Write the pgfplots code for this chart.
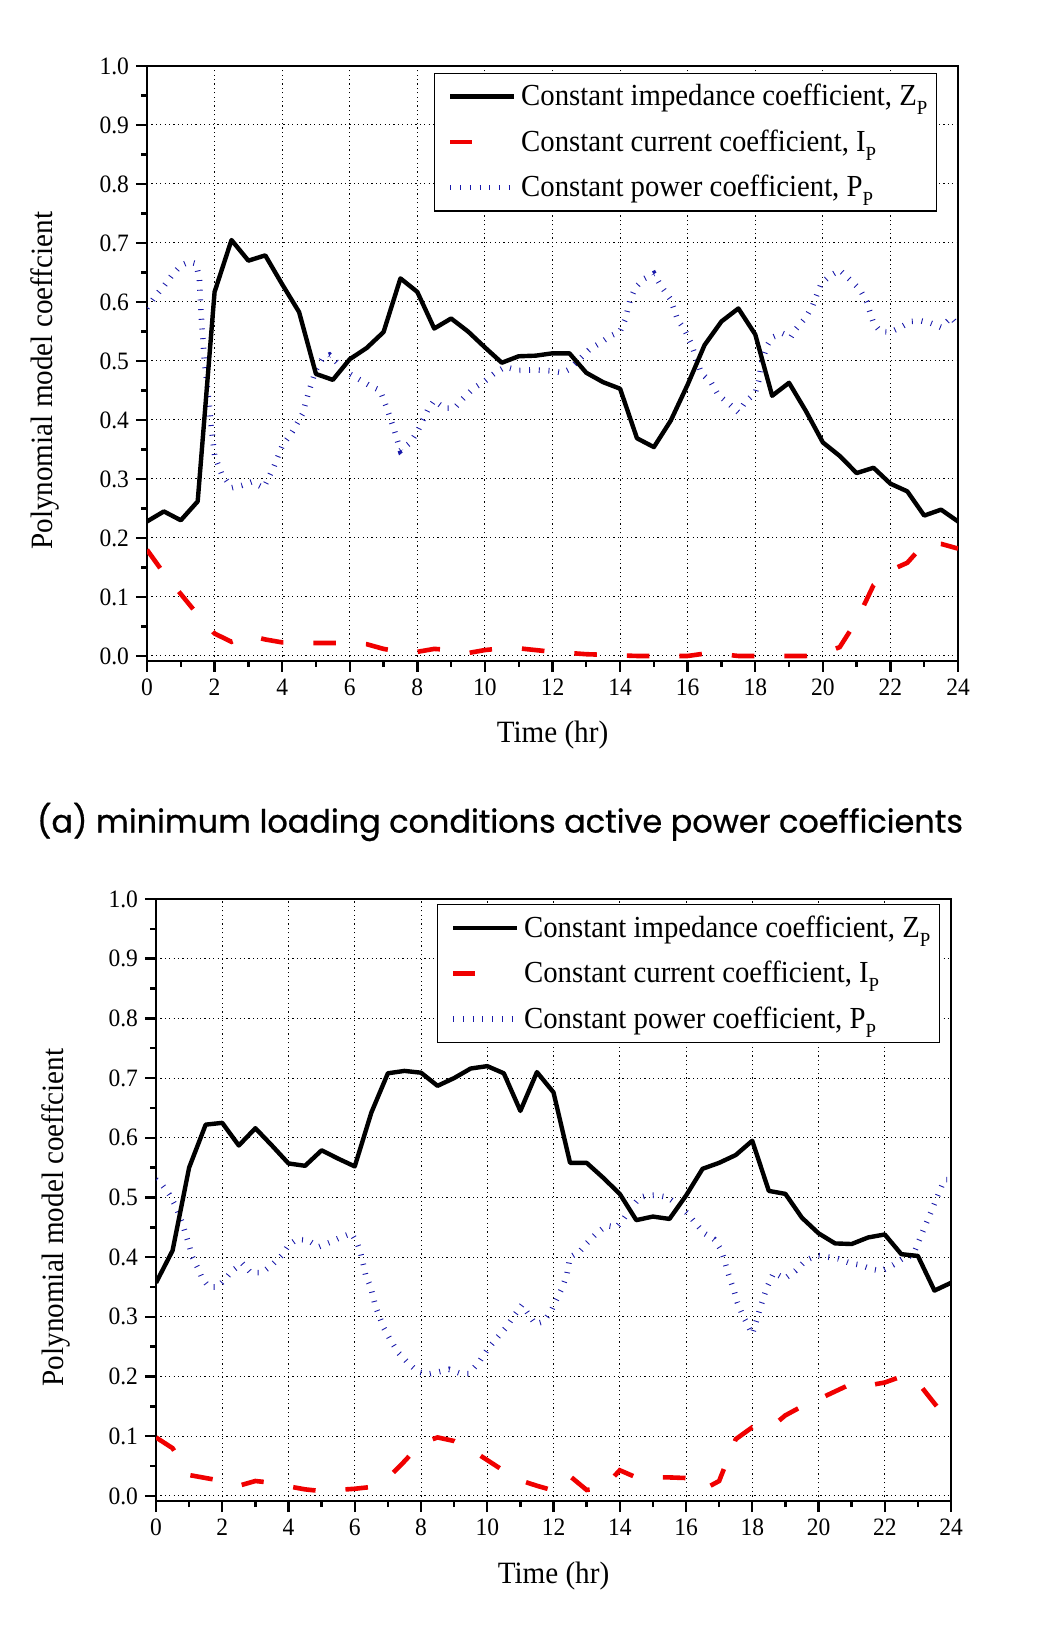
\documentclass[border=0pt]{standalone}
\usepackage{fontspec}
\setmainfont{Liberation Serif}[FakeStretch=0.94]
\newfontfamily\capfont{Poppins}[FakeBold=0.8]
\usepackage{pgfplots}
\usepackage{pgfplotstable}
\pgfplotsset{compat=1.18}

\definecolor{ppblue}{RGB}{25,25,170}
\definecolor{ipred}{RGB}{240,0,0}

% Z_P and I_P, half-hourly, minimum loading (top) and maximum loading (bottom)
\pgfplotstableread{
t z i
0 0.228 0.180
0.5 0.245 0.140
1 0.230 0.105
1.5 0.262 0.070
2 0.617 0.038
2.5 0.705 0.024
3 0.670 0.035
3.5 0.679 0.028
4 0.630 0.023
4.5 0.583 0.022
5 0.478 0.022
5.5 0.468 0.022
6 0.503 0.022
6.5 0.522 0.020
7 0.549 0.012
7.5 0.640 0.007
8 0.617 0.007
8.5 0.555 0.012
9 0.572 0.010
9.5 0.550 0.005
10 0.523 0.010
10.5 0.497 0.013
11 0.508 0.013
11.5 0.509 0.010
12 0.513 0.007
12.5 0.513 0.005
13 0.480 0.003
13.5 0.464 0.002
14 0.453 0.001
14.5 0.369 0.000
15 0.354 0.000
15.5 0.399 0.000
16 0.460 0.000
16.5 0.527 0.004
17 0.567 0.003
17.5 0.589 0.000
18 0.545 0.000
18.5 0.441 0.000
19 0.463 0.000
19.5 0.415 0.000
20 0.362 0.004
20.5 0.339 0.015
21 0.310 0.060
21.5 0.319 0.120
22 0.292 0.145
22.5 0.279 0.158
23 0.238 0.190
23.5 0.248 0.190
24 0.228 0.182
}\minZI

\pgfplotstableread{
t p
0 0.590
0.25 0.610
0.5 0.627
0.75 0.646
1.0 0.662
1.25 0.668
1.45 0.665
1.55 0.640
1.6 0.580
1.7 0.500
1.8 0.450
1.9 0.390
2.0 0.340
2.2 0.310
2.5 0.285
2.8 0.289
3.1 0.295
3.45 0.285
3.75 0.320
4.0 0.356
4.3 0.380
4.6 0.410
4.8 0.450
5.0 0.485
5.2 0.505
5.4 0.510
5.7 0.493
6.0 0.478
6.3 0.468
6.6 0.458
6.9 0.450
7.1 0.420
7.3 0.386
7.5 0.348
7.8 0.362
8.0 0.380
8.3 0.416
8.5 0.433
8.8 0.420
9.1 0.420
9.35 0.436
9.65 0.453
10.0 0.466
10.3 0.480
10.6 0.490
11.0 0.484
11.5 0.485
12.0 0.483
12.3 0.480
12.5 0.486
12.8 0.503
13.1 0.520
13.4 0.530
13.7 0.542
14.0 0.550
14.15 0.570
14.3 0.604
14.45 0.624
14.7 0.639
15.0 0.648
15.2 0.628
15.5 0.604
15.7 0.570
15.9 0.554
16.1 0.530
16.4 0.480
16.7 0.463
16.9 0.443
17.25 0.426
17.5 0.413
17.7 0.430
18.0 0.446
18.1 0.466
18.2 0.500
18.36 0.527
18.5 0.540
18.8 0.547
19.05 0.540
19.2 0.554
19.5 0.574
19.7 0.594
19.95 0.631
20.2 0.644
20.5 0.654
20.8 0.638
21.1 0.621
21.3 0.600
21.5 0.564
21.7 0.550
22.0 0.549
22.3 0.557
22.6 0.567
22.9 0.568
23.2 0.564
23.5 0.557
23.8 0.574
24.0 0.560
}\minP

\pgfplotstableread{
t z i
0 0.357 0.098
0.5 0.411 0.080
1 0.550 0.035
1.5 0.622 0.030
2 0.625 0.025
2.5 0.587 0.017
3 0.616 0.025
3.5 0.587 0.022
4 0.557 0.016
4.5 0.553 0.011
5 0.579 0.008
5.5 0.565 0.010
6 0.552 0.012
6.5 0.642 0.015
7 0.708 0.030
7.5 0.712 0.058
8 0.709 0.088
8.5 0.687 0.098
9 0.700 0.092
9.5 0.716 0.078
10 0.720 0.060
10.5 0.708 0.042
11 0.645 0.026
11.5 0.710 0.017
12 0.676 0.009
12.5 0.558 0.033
13 0.558 0.010
13.5 0.533 0.013
14 0.506 0.043
14.5 0.462 0.031
15 0.468 0.031
15.5 0.464 0.031
16 0.503 0.030
16.5 0.548 0.010
17 0.558 0.025
17.5 0.571 0.095
18 0.595 0.115
18.5 0.511 0.112
19 0.506 0.135
19.5 0.466 0.150
20 0.440 0.162
20.5 0.423 0.175
21 0.422 0.188
21.5 0.433 0.185
22 0.438 0.190
22.5 0.405 0.200
23 0.402 0.190
23.5 0.344 0.155
24 0.357 0.120
}\maxZI

\pgfplotstableread{
t p
0 0.530
0.2 0.520
0.4 0.505
0.6 0.485
0.8 0.456
1.0 0.420
1.1 0.400
1.26 0.382
1.4 0.364
1.6 0.350
1.86 0.350
2.1 0.364
2.3 0.377
2.6 0.390
2.86 0.374
3.2 0.374
3.5 0.387
3.8 0.403
4.0 0.420
4.26 0.430
4.6 0.428
4.9 0.417
5.26 0.425
5.57 0.433
5.9 0.440
6.08 0.423
6.18 0.407
6.33 0.370
6.48 0.350
6.63 0.317
6.88 0.281
7.08 0.261
7.3 0.241
7.57 0.225
7.9 0.208
8.2 0.204
8.55 0.208
8.85 0.212
9.2 0.205
9.45 0.205
9.75 0.224
10.0 0.245
10.3 0.265
10.55 0.281
10.85 0.305
11.05 0.320
11.25 0.304
11.45 0.288
11.7 0.292
11.93 0.310
12.1 0.330
12.25 0.347
12.4 0.370
12.5 0.400
12.8 0.410
13.0 0.423
13.3 0.440
13.6 0.453
13.9 0.450
14.1 0.463
14.35 0.483
14.6 0.500
14.8 0.503
15.1 0.504
15.45 0.500
15.8 0.486
16.05 0.473
16.3 0.456
16.55 0.440
16.85 0.430
17.05 0.413
17.15 0.397
17.25 0.377
17.35 0.360
17.45 0.344
17.55 0.324
17.7 0.304
17.85 0.288
18.0 0.271
18.15 0.298
18.25 0.317
18.35 0.334
18.45 0.350
18.65 0.374
18.98 0.364
19.3 0.377
19.6 0.394
19.95 0.403
20.3 0.400
20.6 0.397
20.95 0.390
21.25 0.387
21.6 0.380
21.9 0.377
22.25 0.387
22.6 0.400
22.85 0.403
23.0 0.423
23.2 0.450
23.4 0.476
23.6 0.503
23.8 0.530
24.0 0.530
}\maxP

\newcommand\legfont{\fontsize{15.3}{17.5}\selectfont}
\newcommand\labfont{\fontsize{15.5}{18}\selectfont}
\newcommand\tickfont{\fontsize{12.5}{14}\selectfont}
% lowered subscript used in the legend entries
\newcommand\lsub[1]{\raisebox{-4.5pt}{\fontsize{10}{10}\selectfont #1}}

\pgfplotsset{
  coefaxis/.style={
    scale only axis,
    anchor=south west,
    xmin=0, xmax=24, ymin=-0.0085, ymax=1,
    xtick={0,2,4,6,8,10,12,14,16,18,20,22,24},
    ytick={0,0.1,0.2,0.3,0.4,0.5,0.6,0.7,0.8,0.9,1.0},
    minor x tick num=1, minor y tick num=1,
    tick pos=left, tick align=outside,
    major tick length=5.5pt, minor tick length=3pt,
    every tick/.style={black, line width=1.2pt},
    axis line style={line width=1.3pt},
    grid=major,
    major grid style={black, line width=0.5pt, dash pattern=on 0.6pt off 1.6pt},
    /pgf/number format/assume math mode=true,
    yticklabel style={/pgf/number format/.cd, fixed, fixed zerofill, precision=1},
    tick label style={font=\tickfont},
    xlabel={Time (hr)}, ylabel={Polynomial model coeffcient},
    label style={font=\labfont},
    xlabel style={at={(axis description cs:0.5,-0.125)}, anchor=center},
    ylabel style={at={(axis description cs:-0.126,0.471)}, anchor=center},
    legend image code/.code={\path (-4pt,0pt); \draw[#1] (0pt,0pt) -- (32pt,0pt);},
    reverse legend,
    legend style={anchor=north east, draw=black, line width=0.6pt, fill=white,
      font=\legfont, inner xsep=2.5pt, inner ysep=3.5pt, row sep=6.5pt,
      cells={anchor=west}},
  },
  zline/.style={black, line width=2.2pt, line join=round},
  iline/.style={ipred, line width=2.3pt, dash pattern=on 11.3pt off 15pt,
    legend image code/.code={\path (-4pt,0pt); \draw[#1, dash pattern=on 11pt off 40pt] (0pt,0pt) -- (32pt,0pt);}},
  pline/.style={ppblue, line width=2.8pt, dash pattern=on 0.45pt off 4.4pt},
}

\begin{document}
\begin{tikzpicture}
\path[use as bounding box] (0,0) rectangle (529pt,819pt);

\begin{axis}[coefaxis, at={(73.5pt,488.5pt)}, width=405.5pt, height=297.5pt,
  legend style={at={(0.974,0.9887)}}]
  \addplot[pline] table[x=t, y=p] {\minP};
  \addlegendentry{Constant power coefficient, P\lsub{P}}
  \addplot[iline] table[x=t, y=i] {\minZI};
  \addlegendentry{Constant current coefficient, I\lsub{P}}
  \addplot[zline] table[x=t, y=z] {\minZI};
  \addlegendentry{Constant impedance coefficient, Z\lsub{P}}
\end{axis}

\node[anchor=center] at (250pt,408pt)
  {\resizebox{463pt}{!}{\capfont\fontsize{18}{20}\selectfont (a) minimum loading conditions active power coefficients}};

\begin{axis}[coefaxis, at={(78pt,68.5pt)}, width=397.5pt, height=301pt,
  legend style={at={(0.986,0.9917)}}]
  \addplot[pline] table[x=t, y=p] {\maxP};
  \addlegendentry{Constant power coefficient, P\lsub{P}}
  \addplot[iline] table[x=t, y=i] {\maxZI};
  \addlegendentry{Constant current coefficient, I\lsub{P}}
  \addplot[zline] table[x=t, y=z] {\maxZI};
  \addlegendentry{Constant impedance coefficient, Z\lsub{P}}
\end{axis}
\end{tikzpicture}
\end{document}
